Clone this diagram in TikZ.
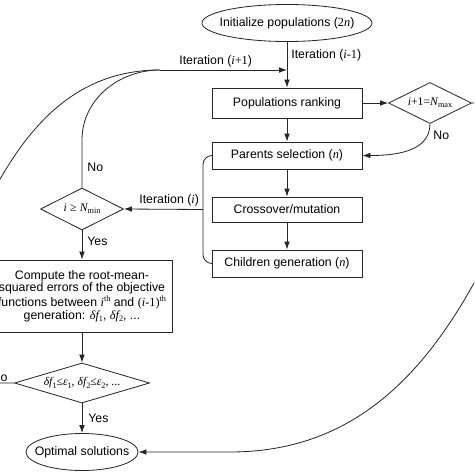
\documentclass[tikz,border=0pt]{standalone}
\usepackage{fontspec}
\setmainfont{Liberation Sans}
\newfontfamily\tms{Liberation Serif}
\usetikzlibrary{shapes.geometric,arrows.meta}
\newcommand\ivar[1]{{\tms\itshape #1}}
\newcommand\rvar[1]{{\tms #1}}
\newcommand\mysub[1]{\raisebox{-0.35ex}{\fontsize{7}{7}\selectfont\tms #1}}
\newcommand\mysup[1]{\raisebox{0.85ex}{\fontsize{7}{7}\selectfont\tms #1}}
\tikzset{
  every node/.style={font=\fontsize{10.5}{10.8}\selectfont},
  line/.style={line width=0.7pt, draw=black!85},
  arr/.style={line, -{Latex[length=2.4mm,width=1.7mm]}},
  procbox/.style={line, rectangle, minimum width=4.5cm, inner sep=0pt},
  decbox/.style={line, diamond, inner sep=0pt, font=\fontsize{10}{10}\selectfont},
  termbox/.style={line, ellipse, inner sep=0pt},
  lbl/.style={inner sep=1pt, anchor=west},
}
\begin{document}
\begin{tikzpicture}[x=0.03cm,y=-0.03cm]
\useasboundingbox (0,0) rectangle (474,474);
\clip (0,0) rectangle (474,474);
% nodes
\node[termbox, minimum width=5.1cm, minimum height=1.11cm, label=center:{Initialize populations (\rvar{2}\ivar{n})}] (init) at (287,23) {};
\node[procbox, minimum height=0.9cm] (pop) at (287,103) {Populations ranking};
\node[procbox, minimum height=0.81cm] (par) at (287,155.5) {Parents selection (\ivar{n})};
\node[procbox, minimum height=0.75cm] (cro) at (287,209.5) {Crossover/mutation};
\node[procbox, minimum height=0.81cm] (chi) at (287,263.5) {Children generation (\ivar{n})};
\node[decbox, aspect=2, minimum width=2.49cm, minimum height=1.23cm] (nmax) at (430,103) {\ivar{i}\rvar{+1=}\ivar{N}\mysub{max}};
\node[decbox, aspect=2, minimum width=2.49cm, minimum height=1.26cm] (nmin) at (82,209) {\ivar{i} \rvar{≥} \ivar{N}\mysub{min}};
\node[procbox, minimum width=5.4cm, minimum height=2.16cm, align=center] (cmp) at (82,296) {Compute the root-mean-\\squared errors of the objective\\functions between \ivar{i}\mysup{th} and \rvar{(}\ivar{i}\rvar{-1)}\mysup{th}\\generation: \ivar{δf}\mysub{1}, \ivar{δf}\mysub{2}, ...};
\node[decbox, aspect=3.4, minimum width=4.05cm, minimum height=1.2cm] (dfd) at (82,383) {\ivar{δf}\mysub{1}\rvar{≤}\ivar{ε}\mysub{1}\rvar{, }\ivar{δf}\mysub{2}\rvar{≤}\ivar{ε}\mysub{2}\rvar{, ...}};
\node[termbox, minimum width=3.36cm, minimum height=1.11cm, label=center:{Optimal solutions}] (opt) at (82,452) {};
% coordinates
\coordinate (j) at (160,70);
\coordinate (m) at (287,70);
\coordinate (k) at (82,140);
\coordinate (bx) at (203,209.5);
\coordinate (o1) at (-15,383);
\coordinate (o2) at (-22,222);
\coordinate (ra) at (490,103);
\coordinate (rb) at (520,180);
\coordinate (rc) at (480,272);
\coordinate (rd) at (230,452);
% connectors
\draw[arr] (init.south) -- (pop.north);
\draw[arr] (j) -- (m);
\draw[arr] (pop.east) -- (nmax.west);
\draw[arr] (nmax.south) to[out=-90,in=0] (par.east);
\draw[arr] (pop.south) -- (par.north);
\draw[arr] (par.south) -- (cro.north);
\draw[arr] (cro.south) -- (chi.north);
\draw[line, rounded corners=0.27cm] (par.west) -| (bx) |- (chi.west);
\draw[arr] (bx) -- (nmin.east);
\draw[line] (nmin.north) -- (k) to[out=90,in=180] (j);
\draw[arr] (nmin.south) -- (cmp.north);
\draw[arr] (cmp.south) -- (dfd.north);
\draw[arr] (dfd.south) -- (opt.north);
\draw[line] (dfd.west) -- (o1) to[out=180,in=-115] (o2) to[out=65,in=180] (j);
\draw[arr] (nmax.east) -- (ra) to[out=0,in=90] (rb) to[out=-90,in=62] (rc) to[out=-118,in=0] (rd) -- (opt.east);
% labels
\node[lbl] at (290,55) {Iteration (\ivar{i}\rvar{-1})};
\node[lbl] at (178,61) {Iteration (\ivar{i}\rvar{+1})};
\node[lbl] at (432,135) {No};
\node[lbl] at (138,200) {Iteration (\ivar{i})};
\node[lbl] at (86,167) {No};
\node[lbl] at (86,241) {Yes};
\node[lbl] at (87,418) {Yes};
\node[inner sep=1pt, anchor=east] at (9,377) {No};
\end{tikzpicture}
\end{document}
